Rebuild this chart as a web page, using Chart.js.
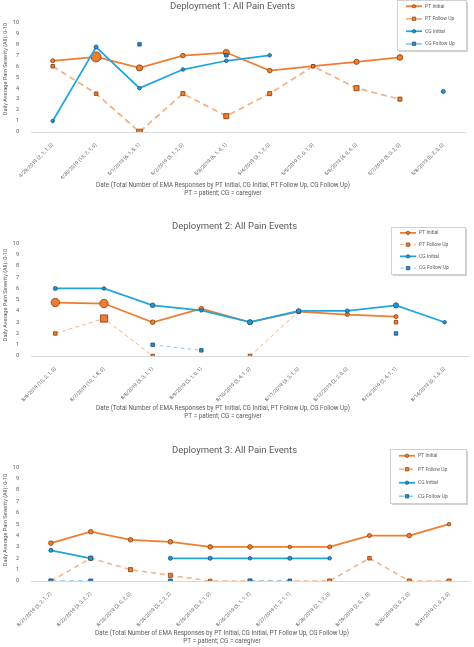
<!DOCTYPE html>
<html>
<head>
<meta charset="utf-8">
<script src="https://cdn.jsdelivr.net/npm/chart.js@4.4.1/dist/chart.umd.min.js"></script>
<style>
html, body { margin: 0; padding: 0; background: #fff; }
.box { position: absolute; left: 0; width: 474px; }
</style>
</head>
<body>
<div class="box" style="top:0;height:215px"><canvas id="d1"></canvas></div>
<div class="box" style="top:215px;height:210px"><canvas id="d2"></canvas></div>
<div class="box" style="top:425px;height:222px"><canvas id="d3"></canvas></div>
<script>
var seriesNames = ["PT Initial", "PT Follow Up", "CG Initial", "CG Follow Up"];
var yTitle = "Daily Average Pain Severity (All): 0-10";
var xTitle = ["Date (Total Number of EMA Responses by PT Initial, CG Initial, PT Follow Up, CG Follow Up)",
    "PT = patient; CG = caregiver"];

// Deployment 1
var d1Dates = ["4/29/2019", "4/30/2019", "5/1/2019", "5/2/2019", "5/3/2019", "5/4/2019", "5/5/2019", "5/6/2019", "5/7/2019", "5/8/2019"];
var d1PtInitial = [6.5, 6.85, 5.85, 6.97, 7.25, 5.6, 6.0, 6.4, 6.8, null];
var d1PtFollowUp = [6.0, 3.5, 0, 3.5, 1.45, 3.5, 6.0, 4.0, 3.0, null];
var d1CgInitial = [1.0, 7.75, 4.0, 5.7, 6.5, 7.0, null, null, null, 3.7];
var d1CgFollowUp = [null, null, 8.0, null, 7.0, null, null, null, null, null];
// number of responses: PT initial, CG initial, PT follow up, CG follow up
var d1NPtInitial = [2, 13, 6, 3, 6, 3, 1, 4, 5, 0];
var d1NCgInitial = [1, 2, 1, 1, 1, 1, 0, 0, 0, 2];
var d1NPtFollowUp = [1, 1, 5, 2, 4, 2, 1, 4, 2, 0];
var d1NCgFollowUp = [0, 0, 1, 0, 1, 0, 0, 0, 0, 0];

// Deployment 2
var d2Dates = ["8/6/2019", "8/7/2019", "8/8/2019", "8/9/2019", "8/10/2019", "8/11/2019", "8/12/2019", "8/13/2019", "8/14/2019"];
var d2PtInitial = [4.75, 4.66, 3.0, 4.2, 3.0, 3.95, 3.68, 3.5, null];
var d2PtFollowUp = [2.0, 3.33, 0, null, 0, 3.95, null, 3.0, null];
var d2CgInitial = [6.0, 6.0, 4.5, 4.05, 3.0, 4.0, 4.0, 4.5, 3.0];
var d2CgFollowUp = [null, null, 1.0, 0.5, null, null, null, 2.0, null];
var d2NPtInitial = [10, 10, 3, 3, 3, 3, 2, 2, 0];
var d2NCgInitial = [2, 1, 3, 1, 4, 3, 2, 4, 1];
var d2NPtFollowUp = [1, 8, 1, 0, 1, 1, 0, 1, 0];
var d2NCgFollowUp = [0, 0, 1, 1, 0, 0, 0, 1, 0];

// Deployment 3
var d3Dates = ["8/21/2019", "8/22/2019", "8/23/2019", "8/24/2019", "8/25/2019", "8/26/2019", "8/27/2019", "8/28/2019", "8/29/2019", "8/30/2019", "8/31/2019"];
var d3PtInitial = [3.33, 4.34, 3.63, 3.45, 3.0, 3.0, 3.0, 3.0, 4.0, 4.0, 5.0];
var d3PtFollowUp = [0, 2.0, 1.0, 0.5, 0, 0, 0, 0, 2.0, 0, 0];
var d3CgInitial = [2.7, 2.0, null, 2.0, 2.0, 2.0, 2.0, 2.0, null, null, null];
var d3CgFollowUp = [0, 0, null, 0, null, 0, 0, null, null, null, null];
var d3NPtInitial = [3, 3, 3, 3, 3, 3, 1, 2, 2, 3, 1];
var d3NCgInitial = [2, 3, 0, 2, 2, 1, 2, 1, 0, 0, 0];
var d3NPtFollowUp = [1, 2, 2, 2, 1, 1, 1, 2, 1, 2, 2];
var d3NCgFollowUp = [2, 2, 0, 2, 0, 2, 1, 0, 0, 0, 0];

var grey = "#595959";
var font = "Roboto";

var makeLabels = function (dates, a, b, c, d) {
    return dates.map(function (dt, i) {
        return dt + " (" + a[i] + ", " + b[i] + ", " + c[i] + ", " + d[i] + ")";
    });
};
var radii = function (counts, k) {
    return counts.map(function (n) { return n ? (1.5 + 0.27 * n) * k : 0; });
};

// legend drawn as a framed box over the top right of the plot
var boxLegend = {
    id: "boxLegend",
    afterDraw: function (chart, args, o) {
        var ctx = chart.ctx;
        ctx.save();
        ctx.fillStyle = "rgba(0,0,0,0.18)";
        ctx.fillRect(o.x + 2, o.y + 2, o.w, o.h);
        ctx.fillStyle = "#fff";
        ctx.fillRect(o.x, o.y, o.w, o.h);
        ctx.strokeStyle = "#d0d0d0";
        ctx.lineWidth = 1;
        ctx.strokeRect(o.x + 0.5, o.y + 0.5, o.w, o.h);
        var step = o.h / chart.data.datasets.length;
        chart.data.datasets.forEach(function (ds, i) {
            var y = o.y + step * (i + 0.5);
            ctx.strokeStyle = ds.borderColor;
            ctx.lineWidth = ds.borderWidth;
            ctx.setLineDash(ds.borderDash || []);
            ctx.beginPath();
            ctx.moveTo(o.x + 9, y);
            ctx.lineTo(o.x + 25, y);
            ctx.stroke();
            ctx.setLineDash([]);
            ctx.fillStyle = ds.pointBackgroundColor;
            ctx.strokeStyle = ds.pointBorderColor;
            ctx.lineWidth = 0.7;
            Chart.helpers.drawPoint(ctx, { pointStyle: ds.pointStyle, radius: ds.pointStyle === "rect" ? 2.4 : 1.7, borderWidth: 0.7 }, o.x + 17, y);
            ctx.fillStyle = grey;
            ctx.font = "5px " + font;
            ctx.textBaseline = "middle";
            ctx.fillText(ds.label, o.x + 28, y);
        });
        ctx.restore();
    }
};

var axisTitles = {
    id: "axisTitles",
    afterDraw: function (chart, args, o) {
        var ctx = chart.ctx;
        ctx.save();
        ctx.fillStyle = grey;
        ctx.textAlign = "center";
        ctx.textBaseline = "middle";
        ctx.font = "6.3px " + font;
        xTitle.forEach(function (t, i) { ctx.fillText(t, o.xx, o.xy + i * 8); });
        ctx.font = "5.6px " + font;
        ctx.translate(o.yx, o.yy);
        ctx.rotate(-Math.PI / 2);
        ctx.fillText(yTitle, 0, 0);
        ctx.restore();
    }
};

var makeChart = function (id, title, labels, ptI, ptF, cgI, cgF, nPtI, nPtF, nCgI, nCgF, lay) {
    return new Chart(document.getElementById(id), {
        type: "line",
        data: {
            labels: labels,
            datasets: [
                {
                    label: seriesNames[0],
                    data: ptI,
                    order: 4,
                    borderColor: "#ED7D31",
                    borderWidth: 1.75,
                    pointStyle: "circle",
                    pointRadius: radii(nPtI, 1),
                    pointBackgroundColor: "#ED7D31",
                    pointBorderColor: "#843C0C",
                    pointBorderWidth: 0.8,
                },
                {
                    label: seriesNames[1],
                    data: ptF,
                    order: 3,
                    borderColor: "#F4B183",
                    borderWidth: lay.dashW,
                    borderDash: lay.dash,
                    pointStyle: "rect",
                    pointRadius: radii(nPtF, 1.4),
                    pointBackgroundColor: "#ED7D31",
                    pointBorderColor: "#843C0C",
                    pointBorderWidth: 0.8,
                },
                {
                    label: seriesNames[2],
                    data: cgI,
                    order: 2,
                    borderColor: "#22A5DF",
                    borderWidth: 1.75,
                    pointStyle: "circle",
                    pointRadius: radii(nCgI, 1),
                    pointBackgroundColor: "#1E9AD3",
                    pointBorderColor: "#1F4E79",
                    pointBorderWidth: 0.8,
                },
                {
                    label: seriesNames[3],
                    data: cgF,
                    order: 1,
                    borderColor: "#8CCBEB",
                    borderWidth: lay.dashW,
                    borderDash: lay.dash,
                    pointStyle: "rect",
                    pointRadius: radii(nCgF, 1.4),
                    pointBackgroundColor: "#2B89BE",
                    pointBorderColor: "#1F4E79",
                    pointBorderWidth: 0.8,
                },
            ],
        },
        options: {
            responsive: true,
            maintainAspectRatio: false,
            animation: false,
            devicePixelRatio: 1,
            layout: { padding: { left: 0, right: lay.right, top: 0, bottom: 0 } },
            plugins: {
                legend: { display: false },
                tooltip: { enabled: false },
                title: {
                    display: true,
                    text: title,
                    color: grey,
                    font: { family: font, size: 9.5, weight: "normal" },
                    padding: { top: lay.titleTop, bottom: lay.titleBottom },
                },
                boxLegend: lay.legend,
                axisTitles: lay.axis,
            },
            scales: {
                x: {
                    offset: true,
                    grid: { display: false },
                    border: { display: true, color: "#d9d9d9", width: 1 },
                    ticks: {
                        autoSkip: false,
                        minRotation: 45,
                        maxRotation: 45,
                        padding: 2,
                        color: grey,
                        font: { family: font, size: 5 },
                    },
                    afterFit: function (s) { s.height = lay.xHeight; },
                },
                y: {
                    min: 0,
                    max: 10,
                    grid: { display: false },
                    border: { display: false },
                    ticks: {
                        stepSize: 1,
                        padding: 4,
                        color: grey,
                        font: { family: font, size: 5.5 },
                    },
                    afterFit: function (s) { s.width = 31; },
                },
            },
        },
        plugins: [boxLegend, axisTitles],
    });
};

makeChart("d1", "Deployment 1: All Pain Events",
    makeLabels(d1Dates, d1NPtInitial, d1NCgInitial, d1NPtFollowUp, d1NCgFollowUp),
    d1PtInitial, d1PtFollowUp, d1CgInitial, d1CgFollowUp,
    d1NPtInitial, d1NPtFollowUp, d1NCgInitial, d1NCgFollowUp,
    {
        right: 9, titleTop: 1, titleBottom: 10, xHeight: 83, dash: [6, 4], dashW: 1.75,
        legend: { x: 397, y: 0, w: 69, h: 50 },
        axis: { xx: 223, xy: 185, yx: 6, yy: 69 },
    });

makeChart("d2", "Deployment 2: All Pain Events",
    makeLabels(d2Dates, d2NPtInitial, d2NCgInitial, d2NPtFollowUp, d2NCgFollowUp),
    d2PtInitial, d2PtFollowUp, d2CgInitial, d2CgFollowUp,
    d2NPtInitial, d2NPtFollowUp, d2NCgInitial, d2NCgFollowUp,
    {
        right: 5, titleTop: 6, titleBottom: 11, xHeight: 69, dash: [4, 3], dashW: 1,
        legend: { x: 391, y: 12, w: 74, h: 47 },
        axis: { xx: 223, xy: 193, yx: 6, yy: 80 },
    });

makeChart("d3", "Deployment 3: All Pain Events",
    makeLabels(d3Dates, d3NPtInitial, d3NCgInitial, d3NPtFollowUp, d3NCgFollowUp),
    d3PtInitial, d3PtFollowUp, d3CgInitial, d3CgFollowUp,
    d3NPtInitial, d3NPtFollowUp, d3NCgInitial, d3NCgFollowUp,
    {
        right: 5, titleTop: 20, titleBottom: 11, xHeight: 66, dash: [5, 4], dashW: 1.5,
        legend: { x: 390, y: 24, w: 76, h: 54 },
        axis: { xx: 222, xy: 208, yx: 6, yy: 95 },
    });
</script>
</body>
</html>
